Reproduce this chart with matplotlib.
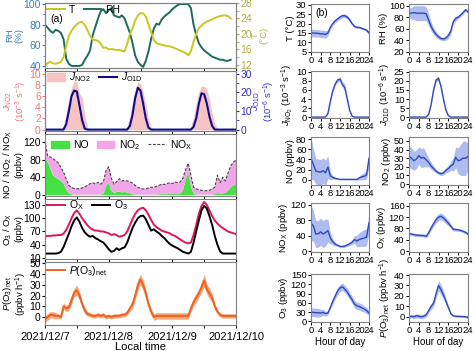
import numpy as np
import pandas as pd
import matplotlib
matplotlib.use('Agg')
import matplotlib.pyplot as plt
import matplotlib.dates as mdates
from matplotlib.patches import Patch
from matplotlib.lines import Line2D
from matplotlib.ticker import MultipleLocator, FuncFormatter

plt.rcParams['font.family'] = ['Liberation Sans', 'DejaVu Sans']
plt.rcParams['mathtext.fontset'] = 'custom'
plt.rcParams['mathtext.rm'] = 'Liberation Sans'
plt.rcParams['mathtext.it'] = 'Liberation Sans:italic'
plt.rcParams['axes.linewidth'] = 0.8
plt.rcParams['axes.edgecolor'] = '#808080'

# ---- (a) hourly time series, 2021/12/7 00:00 onwards ----
rh = [80, 77, 74, 72, 75, 74, 72, 66, 47, 42, 40, 40, 40, 40, 41, 46, 50, 55, 70, 78,
      86, 93, 95, 91, 94, 96, 89, 88, 87, 89, 86, 79, 72, 62, 50, 44, 41, 39, 45, 54,
      66, 76, 81, 80, 85, 88, 90, 92, 95, 97, 99, 100, 100, 100, 100, 96, 80, 70, 62, 58,
      55, 53, 51, 49, 48, 47, 46, 46, 45, 45, 46]
temp = [12.0, 12.5, 12.8, 12.4, 12.3, 12.5, 12.8, 14.0, 17.0, 19.5, 20.8, 21.8, 22.5, 23.0,
        23.1, 22.3, 21.0, 19.5, 18.5, 18.4, 18.2, 17.5, 16.4, 16.5, 16.0, 16.1, 16.0, 15.8,
        15.9, 15.6, 15.5, 17.5, 20.0, 21.5, 23.5, 24.8, 25.4, 25.3, 24.5, 22.5, 20.5, 18.5,
        17.6, 17.4, 17.2, 17.0, 16.9, 16.8, 16.6, 16.3, 16.0, 15.7, 15.4, 15.1, 14.5, 15.5,
        18.0, 20.0, 21.5, 22.2, 22.8, 23.2, 23.5, 23.8, 24.1, 24.4, 24.6, 24.8, 24.8, 24.6, 24.0]

j_no2 = [0, 0, 0, 0, 0, 0, 0, 0.8, 3.0, 5.5, 7.5, 8.8, 8.6, 6.5, 5.8, 2.5, 0.5, 0, 0, 0,
         0, 0, 0, 0, 0, 0, 0, 0, 0, 0, 0, 0.6, 2.5, 5.0, 7.3, 8.5, 8.3, 6.8, 4.5, 2.0,
         0.5, 0, 0, 0, 0, 0, 0, 0, 0, 0, 0, 0, 0, 0, 0, 0.6, 2.4, 4.8, 6.8, 7.8,
         7.8, 7.2, 5.5, 3.0, 1.0, 0.2, 0, 0, 0, 0, 0, 0, 0]
j_o1d = [0, 0, 0, 0, 0, 0, 0, 0, 3, 10, 18, 21, 20.5, 13, 5, 0.5, 0, 0, 0, 0,
         0, 0, 0, 0, 0, 0, 0, 0, 0, 0, 0, 0, 2, 8, 17, 22.5, 21, 14, 6, 1,
         0, 0, 0, 0, 0, 0, 0, 0, 0, 0, 0, 0, 0, 0, 0, 0, 1.5, 6, 14, 19.5,
         19, 14, 7, 2, 0, 0, 0, 0, 0, 0, 0, 0, 0]

nox = [124, 88, 86, 82, 78, 73, 62, 52, 36, 22, 17, 15, 14, 15, 16, 19, 22, 26, 28, 25,
       29, 25, 30, 55, 64, 38, 25, 30, 37, 32, 33, 32, 30, 27, 22, 18, 15, 14, 14, 16,
       18, 17, 20, 22, 25, 24, 26, 28, 26, 30, 28, 30, 38, 58, 72, 45, 18, 14, 12, 11,
       10, 10, 11, 14, 18, 45, 28, 40, 32, 50, 66, 74, 80]
no = [82, 75, 60, 45, 40, 36, 32, 26, 12, 4, 2, 1, 1, 1, 1, 1, 1, 1, 1, 1,
      1, 1, 3, 20, 28, 10, 5, 7, 8, 6, 7, 6, 4, 2, 1, 1, 1, 1, 1, 1,
      1, 1, 1, 2, 2, 2, 2, 3, 2, 3, 2, 4, 10, 35, 50, 20, 3, 1, 1, 1,
      1, 1, 1, 1, 2, 5, 3, 4, 5, 10, 18, 22, 25]

ox = [58, 60, 60, 61, 61, 62, 62, 65, 74, 86, 100, 112, 118, 110, 100, 92, 84, 78, 74, 72,
      72, 70, 70, 68, 66, 62, 64, 62, 58, 60, 62, 70, 84, 98, 110, 118, 122, 124, 118, 108,
      96, 86, 80, 76, 72, 70, 68, 66, 62, 60, 56, 52, 48, 45, 43, 45, 62, 85, 110, 128,
      137, 130, 118, 105, 95, 88, 82, 78, 74, 70, 68, 66, 64]
o3 = [20, 20, 20, 20, 20, 21, 24, 35, 50, 65, 82, 95, 102, 92, 78, 68, 62, 58, 60, 55,
      52, 48, 45, 38, 30, 24, 26, 32, 28, 32, 34, 45, 62, 78, 90, 100, 105, 106, 98, 85,
      72, 75, 70, 66, 60, 55, 48, 42, 38, 35, 32, 28, 24, 22, 20, 24, 45, 70, 95, 118,
      128, 122, 105, 85, 60, 40, 25, 20, 20, 20, 20, 20, 20]

po3 = [-2, 0, 2, 2, 1, 1, 0, 10, 8, 9, 16, 23, 25, 20, 12, 6, 3, 2, 1, 1,
       2, 1, 2, 0, 1, 0, 1, 1, 1, 2, 2, 4, 8, 12, 20, 30, 35, 30, 22, 12,
       5, 0, 1, 1, 1, 1, 1, 1, 1, 1, 1, 1, 1, 1, 1, 8, 14, 18, 22, 28,
       34, 26, 22, 18, 10, 5, 2, 1, 1, 1, 1, 1, 1]
po3_err = [3, 3, 3, 3, 3, 2, 2, 3, 3, 3, 4, 4, 5, 4, 3, 3, 2, 2, 2, 2,
           2, 2, 2, 2, 2, 2, 2, 2, 2, 2, 2, 2, 3, 4, 4, 5, 5, 5, 4, 3,
           3, 3, 3, 3, 3, 3, 3, 3, 3, 3, 3, 3, 3, 3, 3, 3, 4, 4, 4, 5,
           6, 5, 5, 4, 3, 2, 2, 2, 2, 2, 2, 2, 2]

# ---- (b) diurnal means (hour 0-24) and spread ----
hours = list(range(25))
d_t = [15, 15, 14.8, 14.8, 14.5, 14.5, 14.2, 15, 18, 20, 21.5, 22.5, 23.5, 24.2, 24.2,
       23.5, 22, 20, 18.5, 18, 18, 17.5, 17, 16.5, 15]
d_t_sd = [2, 2, 2, 2, 2, 2, 2, 1.5, 1, 1, 1, 1, 1, 1, 1, 1, 1, 0.8, 0.7, 0.6, 0.6, 0.6, 0.6, 0.7, 1]
d_rh = [88, 87, 88, 87, 87, 87, 87, 86, 75, 64, 56, 50, 46, 43, 42, 44, 48, 56, 72, 78,
        80, 84, 88, 93, 89]
d_rh_sd = [8, 10, 12, 13, 13, 13, 13, 12, 10, 8, 6, 5, 4, 3, 3, 4, 5, 6, 5, 4, 3, 3, 3, 2, 3]
d_jno2 = [0, 0, 0, 0, 0, 0, 0, 0.8, 3.5, 5.8, 7.3, 8.2, 8.4, 7.2, 6.5, 4, 1.5, 0.2, 0, 0,
          0, 0, 0, 0, 0]
d_jno2_sd = [0, 0, 0, 0, 0, 0, 0, 0.2, 0.3, 0.3, 0.3, 0.4, 0.5, 0.6, 0.8, 0.4, 0.2, 0, 0, 0,
             0, 0, 0, 0, 0]
d_jo1d = [0, 0, 0, 0, 0, 0, 0, 0, 1.5, 7, 15, 20.5, 21.5, 17, 10, 4, 0.8, 0, 0, 0,
          0, 0, 0, 0, 0]
d_jo1d_sd = [0, 0, 0, 0, 0, 0, 0, 0, 0.3, 0.5, 0.8, 1, 1.2, 1, 0.8, 0.4, 0.2, 0, 0, 0,
             0, 0, 0, 0, 0]
d_no = [42, 30, 17, 16, 15, 18, 14, 25, 8, 5, 3, 2, 1, 1, 1, 1, 1, 1, 1, 1, 4, 6, 7, 10, 42]
d_no_sd = [40, 30, 25, 25, 25, 25, 25, 22, 8, 4, 2, 1, 1, 1, 1, 1, 1, 1, 1, 2, 4, 6, 7, 8, 15]
d_no2 = [32, 30, 27, 29, 33, 30, 31, 28, 25, 21, 18, 15, 13, 12, 13, 16, 18, 21, 23, 31,
         27, 28, 30, 30, 32]
d_no2_sd = [13, 12, 11, 11, 10, 11, 11, 8, 5, 4, 3, 2, 2, 2, 2, 3, 4, 5, 8, 12, 15, 18, 20, 20, 15]
d_nox = [73, 65, 44, 45, 50, 44, 48, 53, 34, 24, 18, 15, 12, 12, 13, 16, 19, 23, 30, 26,
         30, 32, 34, 36, 73]
d_nox_sd = [45, 40, 35, 35, 35, 35, 35, 30, 15, 8, 5, 3, 3, 3, 3, 4, 5, 6, 10, 15, 18, 20, 22, 22, 25]
d_ox = [62, 60, 58, 56, 56, 55, 55, 52, 65, 82, 97, 111, 120, 123, 117, 108, 99, 88, 77, 76,
        75, 73, 70, 66, 60]
d_ox_sd = [5, 5, 5, 5, 5, 5, 5, 6, 7, 8, 10, 12, 12, 12, 12, 12, 10, 8, 6, 5, 5, 5, 5, 5, 5]
d_o3 = [30, 29, 28, 28, 27, 29, 25, 27, 45, 65, 82, 98, 108, 112, 104, 95, 82, 70, 56, 50,
        48, 44, 40, 35, 27]
d_o3_sd = [14, 14, 14, 14, 12, 10, 8, 6, 6, 8, 10, 12, 12, 12, 12, 12, 12, 12, 12, 12, 12, 12, 10, 10, 8]
d_po3 = [0, 0.5, 0, 1, 0.5, 0, 0.5, 2, 6, 10, 13, 22, 30, 26, 21, 15, 9, 3, 1, 0.5,
         0.5, 0.3, 0.3, 0, -0.5]
d_po3_sd = [1.5, 1.5, 2, 2, 2, 2, 2, 2, 2, 3, 3, 4, 5, 5, 4, 3, 2, 1.5, 1, 1, 1, 1, 1, 1, 1]

# colours
c_rh = '#1c6b5c'
c_t = '#c8c81e'
c_rh_ax = '#3a7fb5'
c_t_ax = '#b0b040'
c_jno2 = '#f7c2c2'
c_jno2_ax = '#f07878'
c_jo1d = '#0c0c8c'
c_jo1d_ax = '#3030c8'
c_no = '#44e044'
c_no2 = '#f2a6ea'
c_ox = '#e4145a'
c_po3 = '#f06020'
c_po3_band = '#f5a87a'
c_blue = '#3048c0'
c_band = '#aebcf0'

W, H = 474, 351
fig = plt.figure(figsize=(W / 100, H / 100), dpi=100)


def rect(x0, x1, top, bot):
    return [x0 / W, 1 - bot / H, (x1 - x0) / W, (bot - top) / H]


time = pd.date_range('2021-12-07 00:00', periods=len(nox), freq='h')
t_start = pd.Timestamp('2021-12-07')
t_end = pd.Timestamp('2021-12-10')

FS = 7.5
LW_PX = 236 - 45
lab_kw = dict(fontsize=6.8, linespacing=0.95)


def left_axes(top, bot):
    ax = fig.add_axes(rect(45, 236, top, bot))
    ax.set_xlim(t_start, t_end)
    ax.xaxis.set_major_locator(mdates.DayLocator())
    ax.xaxis.set_minor_locator(mdates.HourLocator(byhour=[12]))
    ax.tick_params(labelsize=FS, length=2.5, width=0.8, pad=0.5, labelbottom=False)
    ax.tick_params(which='minor', length=1.8, width=0.6)
    return ax


def left_label(ax, text, ndig, color='black'):
    ax.set_ylabel(text, color=color, **lab_kw)
    gap = 4.5 + ndig * 5.8
    ax.yaxis.set_label_coords(-gap / LW_PX, 0.5)


def right_label(ax, text, color):
    ax.set_ylabel(text, color=color, **lab_kw)
    ax.yaxis.set_label_coords(1 + 15 / LW_PX, 0.5)


def right_ticks(ax, color):
    ax.tick_params(axis='y', colors=color, which='both', labelsize=FS, length=2.5, pad=0.8)
    ax.tick_params(axis='y', which='minor', length=1.8)


leg_kw = dict(frameon=False, fontsize=FS, handlelength=1.7, handletextpad=0.4,
              columnspacing=0.8, borderaxespad=0.1, borderpad=0.1, loc='upper left')

# panel 1: RH and T
ax1 = left_axes(3, 68)
ax1.plot(time[:len(rh)], rh, color=c_rh, lw=1.4)
ax1.set_ylim(38, 101)
ax1.set_yticks([40, 60, 80, 100])
ax1.yaxis.set_minor_locator(MultipleLocator(10))
ax1.tick_params(axis='y', colors=c_rh_ax, which='both')
left_label(ax1, 'RH\n(%)', 3, c_rh_ax)
ax1b = ax1.twinx()
ax1b.plot(time[:len(temp)], temp, color=c_t, lw=1.4)
ax1b.set_ylim(11.2, 28)
ax1b.set_yticks([12, 16, 20, 24, 28])
ax1b.yaxis.set_minor_locator(MultipleLocator(2))
right_ticks(ax1b, c_t_ax)
right_label(ax1b, 'T\n(\u00b0C)', c_t_ax)
ax1.legend(handles=[Line2D([], [], color=c_t, lw=1.4, label='T'),
                    Line2D([], [], color=c_rh, lw=1.4, label='RH')],
           ncol=2, bbox_to_anchor=(0.0, 1.0), **leg_kw)
ax1.text(0.03, 0.76, '(a)', transform=ax1.transAxes, fontsize=FS, va='center')

# panel 2: photolysis frequencies
ax2 = left_axes(71, 131)
ax2.fill_between(time, 0, j_no2, color=c_jno2, lw=0)
ax2.set_ylim(-0.25, 10.5)
ax2.set_yticks([0, 2, 4, 6, 8, 10])
ax2.tick_params(axis='y', colors=c_jno2_ax)
left_label(ax2, '$J_{\\rm NO2}$\n(10$^{-3}$ s$^{-1}$)', 2, c_jno2_ax)
ax2b = ax2.twinx()
ax2b.plot(time, j_o1d, color=c_jo1d, lw=1.5)
ax2b.set_ylim(-0.75, 31.5)
ax2b.set_yticks([0, 10, 20, 30])
ax2b.yaxis.set_minor_locator(MultipleLocator(5))
right_ticks(ax2b, c_jo1d_ax)
right_label(ax2b, '$J_{\\rm O1D}$\n(10$^{-6}$ s$^{-1}$)', c_jo1d_ax)
ax2.legend(handles=[Patch(color=c_jno2, label='$J_{\\rm NO2}$'),
                    Line2D([], [], color=c_jo1d, lw=1.5, label='$J_{\\rm O1D}$')],
           ncol=2, bbox_to_anchor=(0.0, 1.04), **leg_kw)

# panel 3: NO / NO2 / NOx
ax3 = left_axes(134, 196)
no2 = np.array(nox) - np.array(no)
ax3.stackplot(time, no, no2, colors=[c_no, c_no2], lw=0)
ax3.plot(time, nox, color='#444444', lw=0.8, ls=(0, (2.5, 1.5)))
ax3.set_ylim(-2, 138)
ax3.set_yticks([0, 40, 80, 120])
left_label(ax3, 'NO / NO$_2$ / NO$_{\\rm X}$\n(ppbv)', 3)
ax3.legend(handles=[Patch(color=c_no, label='NO'), Patch(color=c_no2, label='NO$_2$'),
                    Line2D([], [], color='#444444', lw=0.8, ls=(0, (2.5, 1.5)),
                           label='NO$_{\\rm X}$')],
           ncol=3, bbox_to_anchor=(0.02, 0.97), **leg_kw)

# panel 4: O3 / Ox
ax4 = left_axes(199, 259)
ax4.plot(time, ox, color=c_ox, lw=1.4)
ax4.plot(time, o3, color='black', lw=1.4)
ax4.set_ylim(7.7, 143.6)
ax4.set_yticks([10, 40, 70, 100, 130])
left_label(ax4, 'O$_3$ / O$_{\\rm X}$\n(ppbv)', 3)
ax4.legend(handles=[Line2D([], [], color=c_ox, lw=1.4, label='O$_{\\rm X}$'),
                    Line2D([], [], color='black', lw=1.4, label='O$_3$')],
           ncol=2, bbox_to_anchor=(0.0, 1.04), **leg_kw)

# panel 5: P(O3)net
ax5 = left_axes(262, 325)
po3_a = np.array(po3, dtype=float)
err_a = np.array(po3_err, dtype=float)
ax5.fill_between(time, po3_a - err_a, po3_a + err_a, color=c_po3_band, lw=0)
ax5.plot(time, po3, color=c_po3, lw=1.4)
ax5.set_ylim(-7.5, 51.4)
ax5.set_yticks([0, 10, 20, 30, 40, 50])
left_label(ax5, '$P$(O$_3$)$_{\\rm net}$\n(ppbv h$^{-1}$)', 2)
ax5.tick_params(axis='x', labelbottom=True, labelsize=8, pad=2.5)
ax5.xaxis.set_major_formatter(FuncFormatter(
    lambda v, p: '{0.year}/{0.month}/{0.day}'.format(mdates.num2date(v))))
ax5.set_xlabel('Local time', fontsize=8, labelpad=0)
ax5.legend(handles=[Line2D([], [], color=c_po3, lw=1.4, label='$P$(O$_3$)$_{\\rm net}$')],
           bbox_to_anchor=(0.0, 1.0), **leg_kw)

# ---- (b) diurnal panels ----
cols = [(311, 369), (409, 468)]
rows = [(4, 52), (71, 118), (137, 185), (203, 252), (274, 322)]

panels = [
    (0, 0, d_t, d_t_sd, (4.8, 30.5), [5, 10, 15, 20, 25, 30], 'T (\u00b0C)'),
    (0, 1, d_rh, d_rh_sd, (19.5, 103), [20, 40, 60, 80, 100], 'RH (%)'),
    (1, 0, d_jno2, d_jno2_sd, (-0.2, 10.2), [0, 2, 4, 6, 8, 10],
     '$J_{\\rm NO_2}$ (10$^{-3}$ s$^{-1}$)'),
    (1, 1, d_jo1d, d_jo1d_sd, (-0.5, 25.5), [0, 5, 10, 15, 20, 25],
     '$J_{\\rm O1D}$ (10$^{-6}$ s$^{-1}$)'),
    (2, 0, d_no, d_no_sd, (-10, 84), [0, 20, 40, 60, 80], 'NO (ppbv)'),
    (2, 1, d_no2, d_no2_sd, (-1, 54.5), [0, 10, 20, 30, 40, 50], 'NO$_2$ (ppbv)'),
    (3, 0, d_nox, d_nox_sd, (-2.5, 125), [0, 40, 80, 120], 'NO$_{\\rm X}$ (ppbv)'),
    (3, 1, d_ox, d_ox_sd, (-3.5, 170), [0, 40, 80, 120, 160], 'O$_{\\rm X}$ (ppbv)'),
    (4, 0, d_o3, d_o3_sd, (-2, 153), [0, 30, 60, 90, 120, 150], 'O$_3$ (ppbv)'),
    (4, 1, d_po3, d_po3_sd, (-5, 41), [0, 10, 20, 30, 40],
     '$P$(O$_3$)$_{\\rm net}$ (ppbv h$^{-1}$)'),
]

for r, c, mean, sd, ylim, yticks, ylab in panels:
    x0, x1 = cols[c]
    ax = fig.add_axes(rect(x0, x1, rows[r][0], rows[r][1]))
    m = np.array(mean, dtype=float)
    s = np.array(sd, dtype=float)
    ax.fill_between(hours, m - s, m + s, color=c_band, lw=0)
    ax.plot(hours, m, color=c_blue, lw=1.0)
    ax.set_xlim(0, 24)
    ax.set_xticks(range(0, 25, 4))
    ax.set_ylim(*ylim)
    ax.set_yticks(yticks)
    ax.tick_params(labelsize=6.8, length=2.2, width=0.7, pad=1)
    ax.set_ylabel(ylab, fontsize=6.8)
    ndig = max(len(str(v)) for v in yticks)
    gap = 5.5 + ndig * 5.25
    ax.yaxis.set_label_coords(-gap / (x1 - x0), 0.5)
    if r == 4:
        ax.set_xlabel('Hour of day', fontsize=7, labelpad=1)
    if r == 0 and c == 0:
        ax.text(0.08, 0.82, '(b)', transform=ax.transAxes, fontsize=7.5, va='center')

fig.savefig('out.png', dpi=100)
